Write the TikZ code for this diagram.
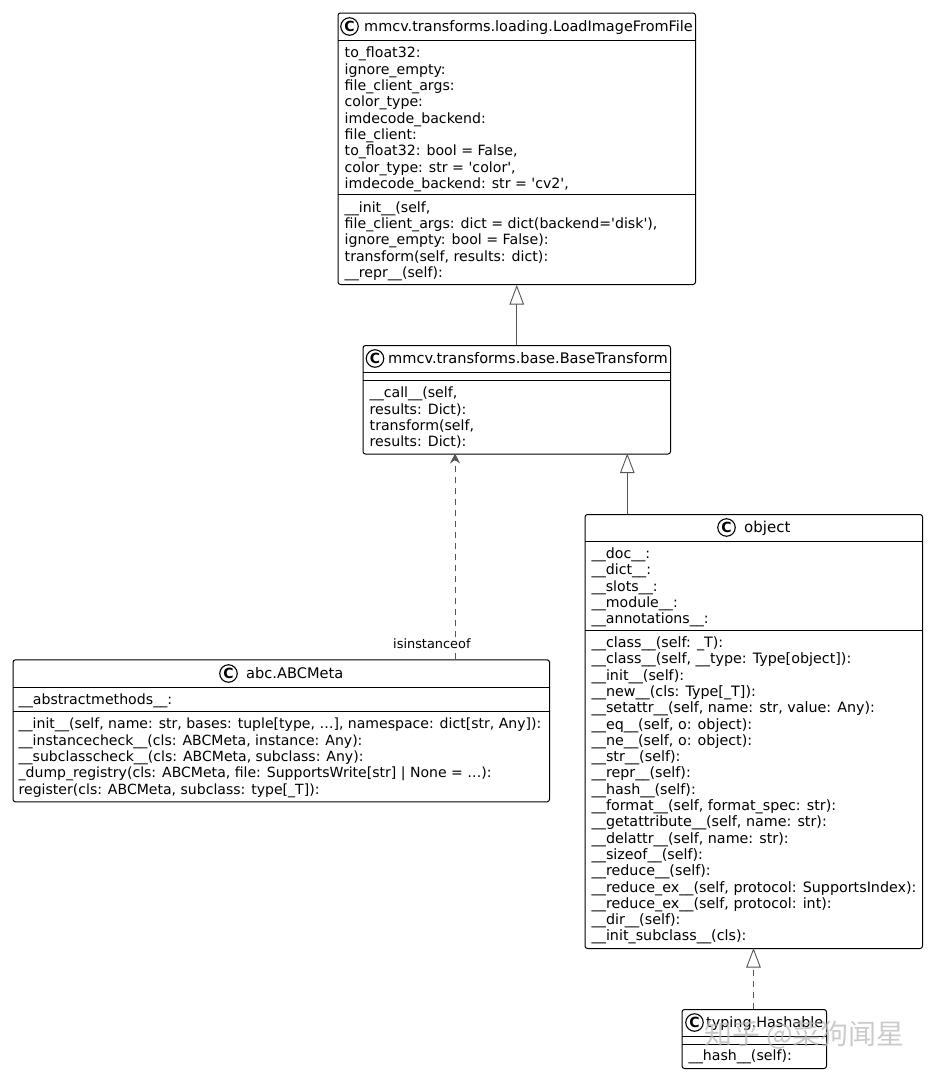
\documentclass[tikz,border=0pt]{standalone}
\usepackage{fontspec}
\usetikzlibrary{arrows.meta}
\newfontfamily\umlfont{DejaVu Sans}
\newfontfamily\cjkmark{Noto Sans CJK SC}
\catcode`\_=12
\definecolor{linkgray}{HTML}{555555}
\tikzset{
  classbox/.style={draw=black,line width=1pt,rounded corners=2.5pt,fill=white,anchor=north west,inner sep=0pt},
  divider/.style={draw=black,line width=1pt},
  icon/.style={circle,draw=black,line width=1.1pt,fill=white,minimum size=17.5pt,inner sep=0pt,font=\fontsize{14}{14}\umlfont\bfseries},
  titletext/.style={anchor=base west,inner sep=0pt,font=\fontsize{#1}{16.3}\umlfont},
  titletext/.default=14.5,
  members/.style={anchor=north west,inner sep=0pt,align=left,font=\fontsize{#1}{16.3}\umlfont},
  members/.default=14.15,
  inherit/.style={draw=linkgray,line width=0.9pt,-{Triangle[open,length=19.5pt,width=14.5pt,fill=white]}},
  realize/.style={draw=linkgray,line width=0.9pt,dash pattern=on 6pt off 5pt,-{Triangle[open,length=19.5pt,width=14.5pt,fill=white]}},
  depend/.style={draw=linkgray,line width=0.9pt,dash pattern=on 6pt off 5pt,-{Stealth[inset=3.5pt,length=10pt,width=10pt]}},
}
\begin{document}
\begin{tikzpicture}[x=1pt,y=-1pt]
\useasboundingbox (0,0) rectangle (928,1074);

% ---- LoadImageFromFile
\node[classbox,minimum width=357.5pt,minimum height=271.5pt] (load) at (337.5,12.5) {};
\draw[divider] (load.west |- 0,40.7) -- (load.east |- 0,40.7);
\draw[divider] (load.west |- 0,194) -- (load.east |- 0,194);
\node[icon] (loadicon) at (349.5,26.5) {C};
\node[titletext=14.44] (loadtitle) at (364,31.5) {mmcv.transforms.loading.LoadImageFromFile};
\node[members] (loadattrs) at (344.5,47) {to_float32:\\ignore_empty:\\file_client_args:\\color_type:\\imdecode_backend:\\file_client:\\to_float32: bool = False,\\color_type: str = 'color',\\imdecode_backend: str = 'cv2',};
\node[members] (loadops) at (344.5,201.3) {__init__(self,\\file_client_args: dict = dict(backend='disk'),\\ignore_empty: bool = False):\\transform(self, results: dict):\\__repr__(self):};

% ---- BaseTransform
\node[classbox,minimum width=307.5pt,minimum height=108.5pt] (base) at (362.5,345) {};
\draw[divider] (base.west |- 0,372) -- (base.east |- 0,372);
\draw[divider] (base.west |- 0,380) -- (base.east |- 0,380);
\node[icon] (baseicon) at (375,358.5) {C};
\node[titletext=14.57] (basetitle) at (388,363.5) {mmcv.transforms.base.BaseTransform};
\node[members] (baseops) at (369.5,387) {__call__(self,\\results: Dict):\\transform(self,\\results: Dict):};

% ---- object
\node[classbox,minimum width=337.5pt,minimum height=434pt] (object) at (584.5,514) {};
\draw[divider] (object.west |- 0,541.5) -- (object.east |- 0,541.5);
\draw[divider] (object.west |- 0,630.5) -- (object.east |- 0,630.5);
\node[icon] (objecticon) at (726.5,527.5) {C};
\node[titletext=15] (objecttitle) at (744,532.5) {object};
\node[members] (objectattrs) at (591.5,547.5) {__doc__:\\__dict__:\\__slots__:\\__module__:\\__annotations__:};
\node[members=14.3] (objectops) at (591.5,636.5) {__class__(self: _T):\\__class__(self, __type: Type[object]):\\__init__(self):\\__new__(cls: Type[_T]):\\__setattr__(self, name: str, value: Any):\\__eq__(self, o: object):\\__ne__(self, o: object):\\__str__(self):\\__repr__(self):\\__hash__(self):\\__format__(self, format_spec: str):\\__getattribute__(self, name: str):\\__delattr__(self, name: str):\\__sizeof__(self):\\__reduce__(self):\\__reduce_ex__(self, protocol: SupportsIndex):\\__reduce_ex__(self, protocol: int):\\__dir__(self):\\__init_subclass__(cls):};

% ---- abc.ABCMeta
\node[classbox,minimum width=536.5pt,minimum height=142pt] (abc) at (12.5,659.3) {};
\draw[divider] (abc.west |- 0,687.3) -- (abc.east |- 0,687.3);
\draw[divider] (abc.west |- 0,711.2) -- (abc.east |- 0,711.2);
\node[icon] (abcicon) at (228.5,673.5) {C};
\node[titletext=14.6] (abctitle) at (246,678.5) {abc.ABCMeta};
\node[members] (abcattrs) at (18.5,693.5) {__abstractmethods__:};
\node[members=14.05] (abcops) at (18.5,718) {__init__(self, name: str, bases: tuple[type, …], namespace: dict[str, Any]):\\__instancecheck__(cls: ABCMeta, instance: Any):\\__subclasscheck__(cls: ABCMeta, subclass: Any):\\_dump_registry(cls: ABCMeta, file: SupportsWrite[str] | None = …):\\register(cls: ABCMeta, subclass: type[_T]):};

% ---- typing.Hashable
\node[classbox,minimum width=144.5pt,minimum height=59pt] (hash) at (681.5,1009) {};
\draw[divider] (hash.west |- 0,1036.7) -- (hash.east |- 0,1036.7);
\draw[divider] (hash.west |- 0,1044.3) -- (hash.east |- 0,1044.3);
\node[icon] (hashicon) at (694.5,1022.5) {C};
\node[titletext=14.37] (hashtitle) at (706,1027.5) {typing.Hashable};
\node[members] (hashops) at (688.5,1050) {__hash__(self):};

% ---- connectors
\coordinate (basefoot) at (627.3,453.5);
\coordinate (objecthead) at (627.3,514);
\coordinate (basefoottwo) at (455,453.5);
\coordinate (abchead) at (455,659.3);
\coordinate (objectfoot) at (753.5,948);
\coordinate (hashhead) at (753.5,1009);
\draw[inherit] (base.north -| load.south) -- (load.south);
\draw[inherit] (objecthead) -- (basefoot);
\draw[depend] (abchead) -- (basefoottwo);
\draw[realize] (hashhead) -- (objectfoot);
\node[anchor=base west,inner sep=0pt,fill=white,font=\fontsize{12.9}{14}\umlfont] (deplabel) at (393,648) {isinstanceof};

% ---- watermark
\node[anchor=west,inner sep=0pt,text=gray!55,opacity=0.75,font=\fontsize{28}{30}\cjkmark] (watermark) at (704,1035) {知乎 @菜狗闻星};
\end{tikzpicture}
\end{document}
